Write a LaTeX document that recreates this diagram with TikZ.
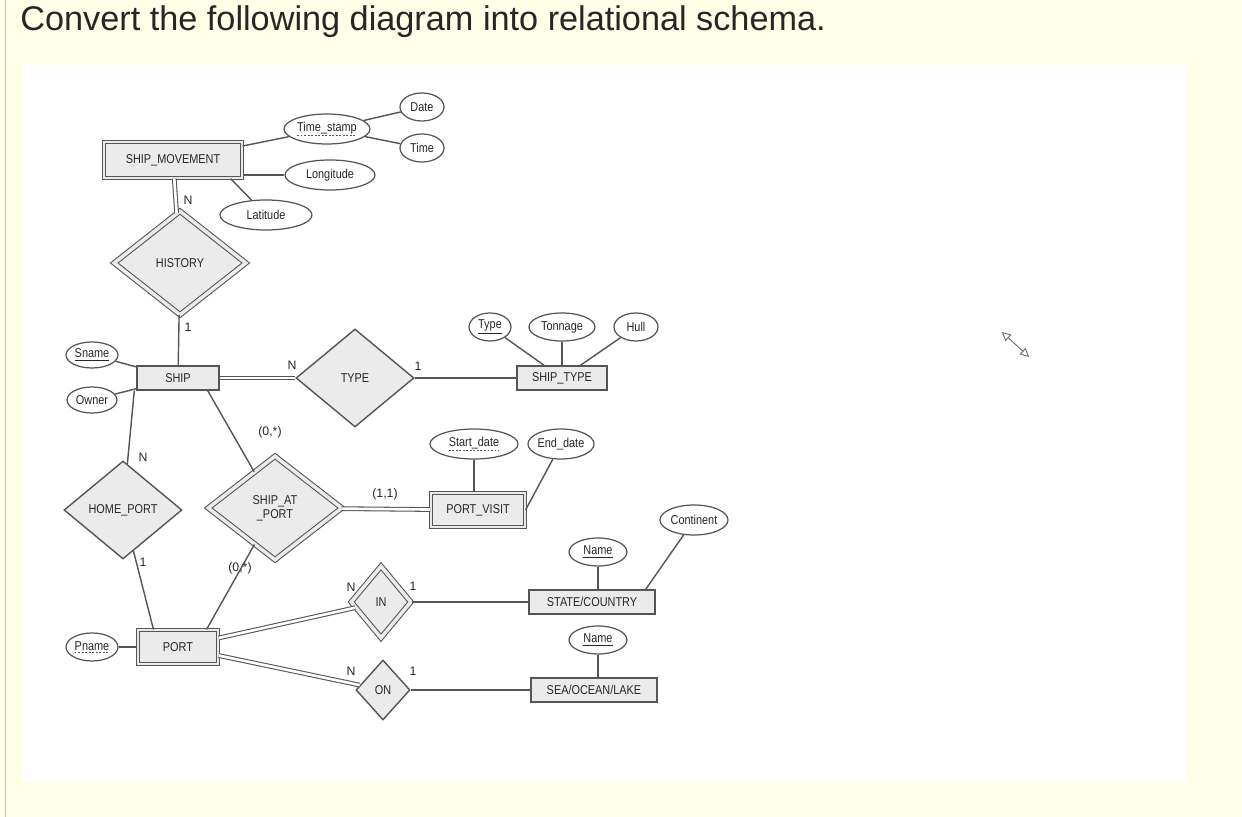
\documentclass[tikz,border=0pt]{standalone}
\usepackage{fontspec}
\setmainfont{Liberation Sans}
\usetikzlibrary{shapes.geometric,arrows.meta}
\definecolor{page}{HTML}{FFFFE8}
\definecolor{ln}{HTML}{555555}
\definecolor{fl}{HTML}{EBEBEB}
\newcommand\myul[1]{\underline{#1}}
\newcommand\mydul[1]{\tikz[baseline=(t.base)]{\node[rectangle,draw=none,fill=none,minimum width=0pt,minimum height=0pt,inner sep=0,outer sep=0](t){#1};\draw[ln,dash pattern=on 1pt off 1pt,line width=0.4pt,double=none]([yshift=-1pt]t.south west)--([yshift=-1pt]t.south east);}}
\begin{document}
\begin{tikzpicture}[x=0.02cm,y=-0.02cm,
  every node/.style={font=\fontsize{7.3}{8}\selectfont\addfontfeature{FakeStretch=0.85},inner sep=0,text=black!85},
  sz/.style 2 args={minimum width=#1*0.02cm,minimum height=#2*0.02cm},
  ent/.style={rectangle,draw=ln,fill=fl,line width=0.8pt},
  went/.style={rectangle,draw=ln,fill=fl,line width=0.6pt,double=fl,double distance=1.6pt},
  att/.style={ellipse,draw=ln,fill=white,line width=0.7pt},
  rel/.style={diamond,draw=ln,fill=fl,line width=0.8pt},
  wrel/.style={diamond,draw=ln,fill=fl,line width=0.6pt,double=fl,double distance=2pt},
  ed/.style={draw=ln,line width=0.8pt},
  ded/.style={draw=ln,line width=0.6pt,double=white,double distance=1.5pt},
  lb/.style={font=\fontsize{7}{8}\selectfont}]
\useasboundingbox (0,0) rectangle (1242,817);
\fill[page] (0,0) rectangle (1242,817);
\draw[black!25] (5,0) -- (5,817) -- (1242,817);
\fill[white] (22,65) rectangle (1187,782);
\node[anchor=west,font=\fontsize{19.5}{22}\selectfont,text=black!85] (title) at (20,22) {Convert the following diagram into relational schema.};

% entities
\node[went,sz={138}{36}] (sm) at (173,160) {SHIP\_MOVEMENT};
\node[ent,sz={82}{24}] (ship) at (178,378) {SHIP};
\node[ent,sz={90}{24}] (st) at (562,378) {SHIP\_TYPE};
\node[went,sz={94}{34}] (pv) at (478,510) {PORT\_VISIT};
\node[ent,sz={126}{24}] (sc) at (592,602) {STATE/COUNTRY};
\node[went,sz={80}{34}] (port) at (178,647) {PORT};
\node[ent,sz={126}{24}] (sol) at (594,690) {SEA/OCEAN/LAKE};

% relationships
\node[wrel,sz={132}{104}] (hist) at (180,263) {HISTORY};
\node[rel,sz={118}{98}] (type) at (355,378) {TYPE};
\node[rel,sz={118}{98}] (hp) at (123,510) {HOME\_PORT};
\node[wrel,sz={134}{104},align=center] (sap) at (275,508) {SHIP\_AT\\\_PORT};
\node[wrel,sz={60}{72}] (in) at (381,602) {IN};
\node[rel,sz={54}{60}] (on) at (383,690) {ON};

% attributes
\node[att,sz={86}{30}] (ts) at (327,129) {\mydul{Time\_stamp}};
\node[att,sz={44}{28}] (date) at (422,107) {Date};
\node[att,sz={44}{28}] (time) at (422,148) {Time};
\node[att,sz={90}{30}] (lon) at (330,175) {Longitude};
\node[att,sz={92}{30}] (lat) at (266,215) {Latitude};
\node[att,sz={52}{26}] (sname) at (92,355) {\myul{Sname}};
\node[att,sz={50}{26}] (owner) at (92,400) {Owner};
\node[att,sz={42}{28}] (ty) at (490,327) {\myul{Type}};
\node[att,sz={66}{28}] (ton) at (562,327) {Tonnage};
\node[att,sz={44}{28}] (hull) at (636,327) {Hull};
\node[att,sz={88}{30}] (sd) at (474,444) {\mydul{Start\_date}};
\node[att,sz={66}{30}] (edt) at (561,444) {End\_date};
\node[att,sz={68}{30}] (cont) at (694,520) {Continent};
\node[att,sz={58}{28}] (n1) at (598,552) {\myul{Name}};
\node[att,sz={58}{28}] (n2) at (598,640) {\myul{Name}};
\node[att,sz={52}{28}] (pn) at (92,647) {\mydul{Pname}};

% attribute links
\draw[ed] (sm) -- (ts);
\draw[ed] (ts) -- (date);
\draw[ed] (ts) -- (time);
\draw[ed] (sm.east|-lon) -- (lon);
\draw[ed] ([xshift=-0.24cm]sm.south east) -- (lat);
\draw[ed] (sname) -- (ship);
\draw[ed] (owner) -- (ship);
\draw[ed] (ty) -- (st);
\draw[ed] (ton) -- (st);
\draw[ed] (hull) -- (st);
\draw[ed] (sd) -- (sd|-pv.north);
\draw[ed] (edt) -- (pv.east);
\draw[ed] (n1) -- (n1|-sc.north);
\draw[ed] (cont) -- ([xshift=-0.2cm]sc.north east);
\draw[ed] (n2) -- (n2|-sol.north);
\draw[ed] (pn) -- (port);

% relationship links
\draw[ded] (sm) -- (hist);
\draw[ed] (hist) -- (ship);
\draw[ded] (ship) -- (type);
\draw[ed] (type) -- (st);
\draw[ed] ([xshift=-0.04cm]ship.south west) -- (hp);
\draw[ed] (hp) -- ([xshift=0.32cm]port.north west);
\draw[ed] ([xshift=-0.24cm]ship.south east) -- (sap);
\draw[ed] (sap) -- ([xshift=-0.24cm]port.north east);
\draw[ded] (sap) -- (pv);
\draw[ded] (port) -- (in);
\draw[ed] (in) -- (sc);
\draw[ded] (port) -- (on);
\draw[ed] (on) -- (sol);

% cardinalities
\node[lb] (c1) at (188,200) {N};
\node[lb] (c2) at (188,327) {1};
\node[lb] (c3) at (292,365) {N};
\node[lb] (c4) at (418,366) {1};
\node[lb] (c5) at (270,432) {(0,*)};
\node[lb] (c6) at (143,457) {N};
\node[lb] (c7) at (143,562) {1};
\node[lb] (c8) at (240,568) {(0,*)};
\node[lb] (c9) at (385,494) {(1,1)};
\node[lb] (c10) at (351,587) {N};
\node[lb] (c11) at (413,586) {1};
\node[lb] (c12) at (351,671) {N};
\node[lb] (c13) at (413,671) {1};

% cursor
\coordinate (k1) at (1002,332);
\coordinate (k2) at (1029,357);
\draw[black!60,line width=0.5pt,{Triangle[open,length=5pt,width=5pt]}-{Triangle[open,length=5pt,width=5pt]}] (k1) -- (k2);
\end{tikzpicture}
\end{document}
